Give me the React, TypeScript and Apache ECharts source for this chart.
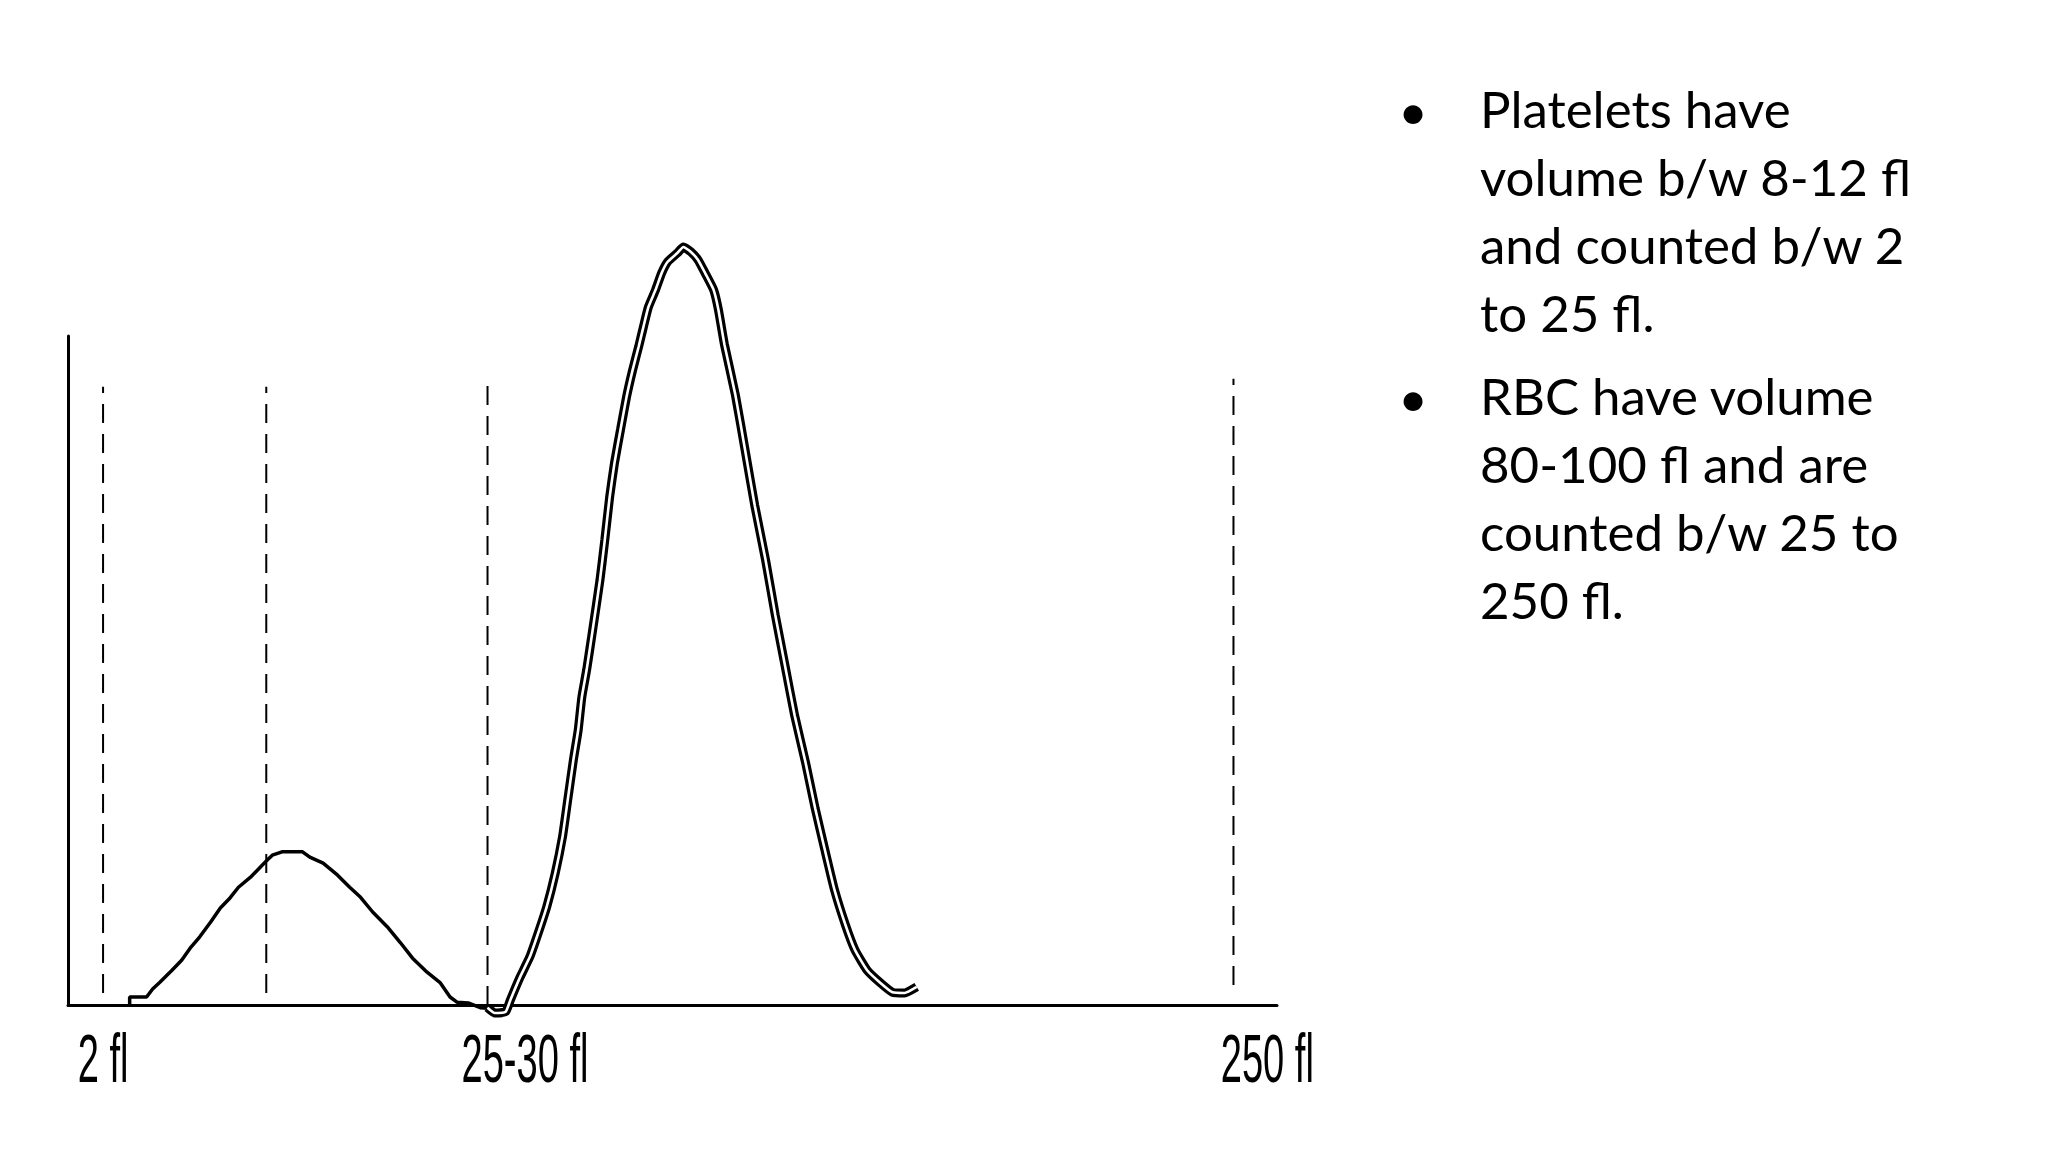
import React, { useEffect, useRef } from "react";
import * as echarts from "echarts";

// Histogram channel axis (arbitrary units 0..100) and relative count (0..100 at axis top)
const plateletCurve: number[][] = [
  [5.1, 0], [5.1, 1.2], [6.5, 1.2], [7.0, 2.4], [7.6, 3.4], [8.6, 5.2], [9.4, 6.7],
  [10.1, 8.5], [10.9, 10.2], [11.8, 12.4], [12.6, 14.5], [13.4, 16.0], [14.1, 17.6],
  [15.1, 19.1], [15.9, 20.6], [16.5, 21.7], [16.9, 22.4], [17.7, 22.9], [19.4, 22.9],
  [20.0, 22.1], [21.1, 21.2], [22.3, 19.4], [23.3, 17.6], [24.2, 16.1], [25.2, 13.9],
  [26.4, 11.7], [27.5, 9.3], [28.5, 7.0], [29.7, 4.9], [30.8, 3.3], [31.6, 1.2],
  [32.2, 0.4], [33.1, 0.3], [34.1, -0.4], [34.7, -0.5],
];

const rbcCurve: number[][] = [
  [34.7, -0.4], [35.3, -1.2], [36.2, -1.0], [36.6, 0.8], [37.4, 4.2], [38.2, 7.2],
  [38.9, 10.8], [39.6, 14.7], [40.3, 19.7], [40.9, 25.1], [41.3, 30.2], [41.8, 36.6],
  [42.2, 41.1], [42.5, 46.0], [42.9, 50.1], [43.4, 56.1], [44.0, 63.5], [44.4, 69.5],
  [44.8, 75.9], [45.2, 81.0], [45.7, 86.0], [46.2, 90.9], [46.7, 94.9], [47.2, 98.4],
  [47.6, 101.4], [48.0, 104.3], [48.6, 106.9], [49.1, 109.4], [49.6, 111.1],
  [50.4, 112.4], [50.9, 113.3], [51.5, 112.6], [52.1, 111.4], [52.7, 109.4],
  [53.4, 106.9], [53.8, 103.9], [54.3, 98.7], [55.2, 91.2], [56.0, 83.0], [56.8, 74.7],
  [57.7, 66.5], [58.5, 58.3], [59.3, 50.8], [60.1, 43.3], [61.0, 36.3], [61.8, 29.4],
  [62.6, 23.2], [63.4, 17.2], [64.3, 12.0], [65.1, 8.2], [66.1, 5.2], [67.2, 3.3],
  [68.2, 1.9], [69.2, 1.8], [70.2, 2.7],
];

const dashedLineX = [2.9, 16.4, 34.7, 96.4];
const dashedLineTop = [92.4, 92.4, 93.6, 93.6];
const dashedLineBottom = [1.8, 1.8, 0, 3.0];

const tickLabels = ["2 fl", "25-30 fl", "250 fl"];
const tickLabelX = [2.9, 37.8, 99.2];

const bulletPoints: string[][] = [
  ["Platelets have", "volume b/w 8-12 fl", "and counted b/w 2", "to 25 fl."],
  ["RBC have volume", "80-100 fl and are", "counted b/w 25 to", "250 fl."],
];

export default function App() {
  const ref = useRef<HTMLDivElement>(null);

  useEffect(() => {
    if (!ref.current) return;
    const chart = echarts.init(ref.current, undefined, { renderer: "svg" });

    const dashedSeries = dashedLineX.map((x, i) => ({
      type: "line",
      data: [
        [x, dashedLineBottom[i]],
        [x, dashedLineTop[i]],
      ],
      symbol: "none",
      silent: true,
      z: 1,
      lineStyle: { color: "#000", width: 2, type: [19, 11] },
    }));

    chart.setOption({
      animation: false,
      backgroundColor: "#ffffff",
      grid: { left: 68, top: 336, width: 1209, height: 669 },
      xAxis: {
        type: "value",
        min: 0,
        max: 100,
        axisLine: { show: true, lineStyle: { color: "#000", width: 3 } },
        axisTick: { show: false },
        axisLabel: { show: false },
        splitLine: { show: false },
      },
      yAxis: {
        type: "value",
        min: 0,
        max: 100,
        axisLine: { show: true, lineStyle: { color: "#000", width: 3 } },
        axisTick: { show: false },
        axisLabel: { show: false },
        splitLine: { show: false },
      },
      series: [
        ...dashedSeries,
        {
          type: "line",
          name: "Platelets",
          data: plateletCurve,
          symbol: "none",
          clip: false,
          z: 2,
          lineStyle: { color: "#000", width: 3.5 },
        },
        {
          type: "line",
          name: "RBC outer",
          data: rbcCurve,
          symbol: "none",
          clip: false,
          smooth: 0.15,
          z: 3,
          lineStyle: { color: "#000", width: 9 },
        },
        {
          type: "line",
          name: "RBC inner",
          data: rbcCurve,
          symbol: "none",
          clip: false,
          smooth: 0.15,
          z: 4,
          lineStyle: { color: "#fff", width: 2.6 },
        },
      ],
    });

    const labelGraphics = tickLabels.map((t, i) => {
      const p = chart.convertToPixel({ gridIndex: 0 }, [tickLabelX[i], 0]) as number[];
      return {
        type: "text",
        x: p[0],
        y: p[1] + 54,
        scaleX: 0.56,
        style: {
          text: t,
          fontFamily: "Liberation Sans",
          fontSize: 68,
          fill: "#000",
          align: "center",
          verticalAlign: "middle",
        },
      };
    });

    const paraTops = [74, 361];
    const bulletGraphics: any[] = [];
    bulletPoints.forEach((lines, i) => {
      bulletGraphics.push({
        type: "text",
        x: 1413,
        y: paraTops[i] + 36,
        style: {
          text: "•",
          fontFamily: "Lato",
          fontSize: 51,
          fill: "#000",
          align: "center",
          verticalAlign: "middle",
        },
      });
      bulletGraphics.push({
        type: "text",
        x: 1480,
        y: paraTops[i],
        style: {
          text: lines.join("\n"),
          fontFamily: "Lato",
          fontSize: 51,
          lineHeight: 68,
          fill: "#000",
          align: "left",
          verticalAlign: "top",
        },
      });
    });

    chart.setOption({ graphic: [...labelGraphics, ...bulletGraphics] });

    return () => chart.dispose();
  }, []);

  return (
    <div
      ref={ref}
      style={{ position: "fixed", left: 0, top: 0, width: 2048, height: 1152, background: "#fff" }}
    />
  );
}
